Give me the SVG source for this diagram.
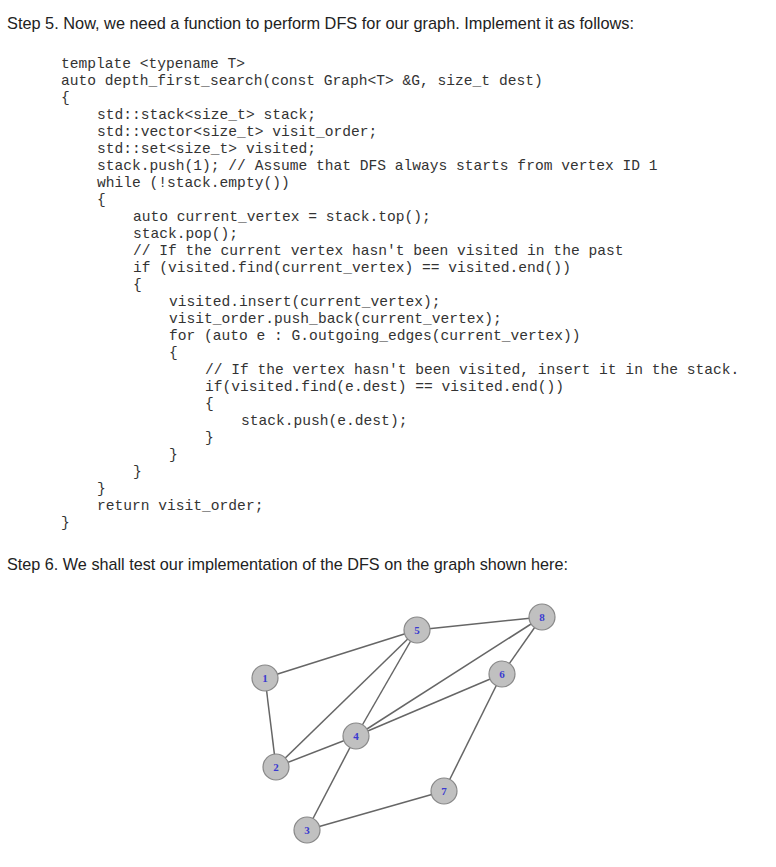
<svg xmlns="http://www.w3.org/2000/svg" width="776" height="867" viewBox="0 0 776 867">
<style>
.h{font-family:"Liberation Sans",Arial,sans-serif;font-size:17px;fill:#222}
.c{font-family:"Liberation Mono","Courier New",monospace;font-size:14.6px;fill:#333;white-space:pre}
.e{stroke:#666;stroke-width:1.5}
.n{fill:#c0c0c0;stroke:#888;stroke-width:1.2}
.l{font-family:"Liberation Serif",serif;font-size:11px;font-weight:bold;fill:#3a3ad0;text-anchor:middle}
</style>
<rect width="776" height="867" fill="#fff"/>
<text class="h" x="7" y="29" textLength="627" lengthAdjust="spacingAndGlyphs">Step 5. Now, we need a function to perform DFS for our graph. Implement it as follows:</text>
<g id="code">
<text class="c" x="61" y="68">template &lt;typename T&gt;</text>
<text class="c" x="61" y="85">auto depth_first_search(const Graph&lt;T&gt; &amp;G, size_t dest)</text>
<text class="c" x="61" y="102">{</text>
<text class="c" x="97" y="119">std::stack&lt;size_t&gt; stack;</text>
<text class="c" x="97" y="136">std::vector&lt;size_t&gt; visit_order;</text>
<text class="c" x="97" y="153">std::set&lt;size_t&gt; visited;</text>
<text class="c" x="97" y="170">stack.push(1); // Assume that DFS always starts from vertex ID 1</text>
<text class="c" x="97" y="187">while (!stack.empty())</text>
<text class="c" x="97" y="204">{</text>
<text class="c" x="133" y="221">auto current_vertex = stack.top();</text>
<text class="c" x="133" y="238">stack.pop();</text>
<text class="c" x="133" y="255">// If the current vertex hasn't been visited in the past</text>
<text class="c" x="133" y="272">if (visited.find(current_vertex) == visited.end())</text>
<text class="c" x="133" y="289">{</text>
<text class="c" x="169" y="306">visited.insert(current_vertex);</text>
<text class="c" x="169" y="323">visit_order.push_back(current_vertex);</text>
<text class="c" x="169" y="340">for (auto e : G.outgoing_edges(current_vertex))</text>
<text class="c" x="169" y="357">{</text>
<text class="c" x="205" y="374">// If the vertex hasn't been visited, insert it in the stack.</text>
<text class="c" x="205" y="391">if(visited.find(e.dest) == visited.end())</text>
<text class="c" x="205" y="408">{</text>
<text class="c" x="241" y="425">stack.push(e.dest);</text>
<text class="c" x="205" y="442">}</text>
<text class="c" x="169" y="459">}</text>
<text class="c" x="133" y="476">}</text>
<text class="c" x="97" y="493">}</text>
<text class="c" x="97" y="510">return visit_order;</text>
<text class="c" x="61" y="527">}</text>
</g>
<text class="h" x="7" y="570" textLength="561" lengthAdjust="spacingAndGlyphs">Step 6. We shall test our implementation of the DFS on the graph shown here:</text>
<g id="edges">
<line class="e" x1="265" y1="678" x2="417" y2="630"/>
<line class="e" x1="265" y1="678" x2="276" y2="767"/>
<line class="e" x1="276" y1="767" x2="417" y2="630"/>
<line class="e" x1="276" y1="767" x2="356" y2="736"/>
<line class="e" x1="356" y1="736" x2="417" y2="630"/>
<line class="e" x1="356" y1="736" x2="542" y2="617"/>
<line class="e" x1="356" y1="736" x2="502" y2="674"/>
<line class="e" x1="356" y1="736" x2="307" y2="830"/>
<line class="e" x1="307" y1="830" x2="444" y2="791"/>
<line class="e" x1="444" y1="791" x2="502" y2="674"/>
<line class="e" x1="502" y1="674" x2="542" y2="617"/>
<line class="e" x1="417" y1="630" x2="542" y2="617"/>
</g>
<g id="n1"><circle class="n" cx="265" cy="678" r="13"/><text class="l" x="265" y="682">1</text></g>
<g id="n2"><circle class="n" cx="276" cy="767" r="13"/><text class="l" x="276" y="771">2</text></g>
<g id="n3"><circle class="n" cx="307" cy="830" r="13"/><text class="l" x="307" y="834">3</text></g>
<g id="n4"><circle class="n" cx="356" cy="736" r="13"/><text class="l" x="356" y="740">4</text></g>
<g id="n5"><circle class="n" cx="417" cy="630" r="13"/><text class="l" x="417" y="634">5</text></g>
<g id="n6"><circle class="n" cx="502" cy="674" r="13"/><text class="l" x="502" y="678">6</text></g>
<g id="n7"><circle class="n" cx="444" cy="791" r="13"/><text class="l" x="444" y="795">7</text></g>
<g id="n8"><circle class="n" cx="542" cy="617" r="13"/><text class="l" x="542" y="621">8</text></g>
</svg>
